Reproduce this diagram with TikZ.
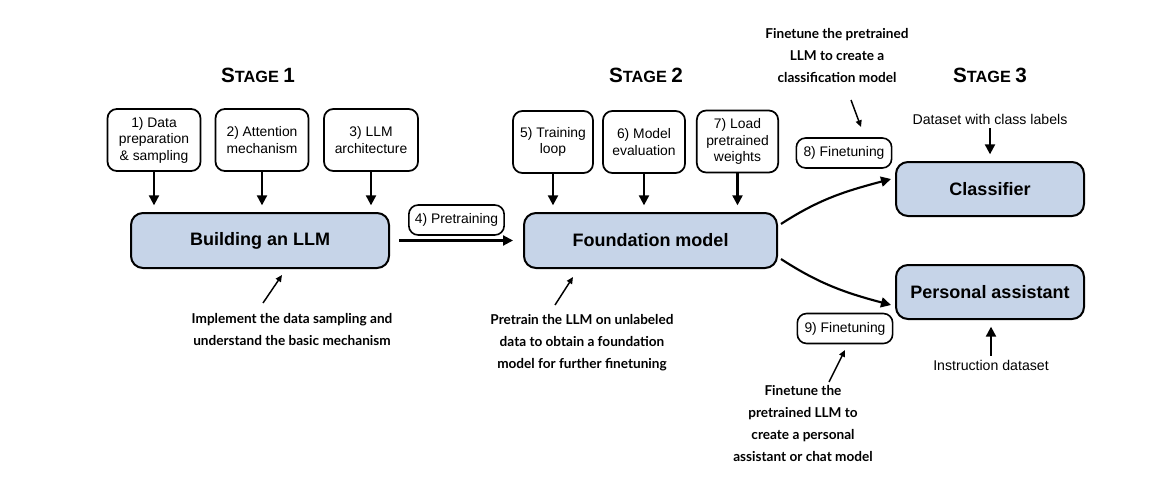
\documentclass[tikz,border=0pt]{standalone}
\usepackage{fontspec}
\setmainfont{Liberation Sans}
\newfontfamily\annfont{Lato}
\usetikzlibrary{arrows.meta}
\definecolor{boxblue}{RGB}{198,212,232}
\tikzset{
  smallbox/.style={draw, line width=1.3pt, rounded corners=7pt, align=center,
    font=\fontsize{10.4}{12.4}\selectfont, inner sep=0pt, minimum height=46.5pt},
  pillbox/.style={draw, line width=1.2pt, rounded corners=7pt, align=center,
    font=\fontsize{10.4}{12.4}\selectfont, inner sep=0pt, minimum height=22.5pt, minimum width=71.5pt},
  bigbox/.style={draw, line width=1.5pt, rounded corners=9pt, fill=boxblue,
    font=\bfseries\fontsize{13.5}{16}\selectfont, inner sep=0pt, minimum height=41.25pt},
  arr/.style={line width=1.6pt, -{Triangle[length=7.5pt,width=7.5pt]}, shorten >=5pt},
  ann/.style={font=\annfont\bfseries\fontsize{10.2}{16.3}\selectfont, align=center, inner sep=0pt},
  annarr/.style={line width=1.1pt, -{Triangle[length=5pt,width=4.5pt]}},
  lbl/.style={font=\fontsize{10.6}{12}\selectfont, inner sep=0pt},
  stage/.style={font=\bfseries, inner sep=0pt}
}
\newcommand{\stagetitle}[1]{{\fontsize{15.5}{16}\selectfont S}{\fontsize{12.2}{16}\selectfont TAGE }{\fontsize{15.5}{16}\selectfont #1}}
\begin{document}
\begin{tikzpicture}[x=0.75pt,y=-0.75pt]
\useasboundingbox (0,0) rectangle (1150,492);
\fill[white] (0,0) rectangle (1150,492);

% stage titles
\node[stage] (s1) at (258,75) {\stagetitle{1}};
\node[stage] (s2) at (646,75) {\stagetitle{2}};
\node[stage] (s3) at (990,75) {\stagetitle{3}};

% stage 1
\node[smallbox, minimum width=69.75pt] (b1) at (154,140) {1) Data\\preparation\\\& sampling};
\node[smallbox, minimum width=69.75pt] (b2) at (262,140) {2) Attention\\mechanism};
\node[smallbox, minimum width=70.5pt] (b3) at (371,140) {3) LLM\\architecture};
\node[bigbox, minimum width=193.5pt] (build) at (260,240.5) {Building an LLM};
\foreach \b in {b1,b2,b3} \draw[arr] (\b.south) -- (\b.south |- build.north);

% pretraining
\node[pillbox] (pre) at (456.5,220) {4) Pretraining};

% stage 2
\node[smallbox, minimum width=60pt] (b5) at (553,142) {5) Training\\loop};
\node[smallbox, minimum width=61.5pt] (b6) at (644,142) {6) Model\\evaluation};
\node[smallbox, minimum width=61pt] (b7) at (737.5,141.5) {7) Load\\pretrained\\weights};
\node[bigbox, minimum width=189.75pt] (found) at (650.5,240.5) {Foundation model};
\foreach \b in {b5,b6,b7} \draw[arr] (\b.south) -- (\b.south |- found.north);
\draw[arr, shorten <=6.75pt, shorten >=7.5pt] (build.east) -- (found.west);

% stage 3
\node[bigbox, minimum width=141pt, minimum height=40.5pt] (cls) at (990,189) {Classifier};
\node[bigbox, minimum width=141pt, minimum height=40.5pt] (pa) at (990,292) {Personal assistant};
\node[lbl] (dsl) at (990,119) {Dataset with class labels};
\node[lbl] (ids) at (991,365) {Instruction dataset};
\draw[arr, shorten <=3pt] (dsl.south) -- (dsl.south |- cls.north);
\draw[arr, shorten <=3pt] (ids.north) -- (ids.north |- pa.south);

\node[pillbox] (ft8) at (844,153) {8) Finetuning};
\node[pillbox] (ft9) at (845,328.5) {9) Finetuning};

\coordinate (c1s) at ([xshift=2.25pt,yshift=12.4pt]found.east);
\coordinate (c1e) at ([xshift=-3pt,yshift=7.5pt]cls.west);
\coordinate (c2s) at ([xshift=2.25pt,yshift=-13.9pt]found.east);
\coordinate (c2e) at ([xshift=-3pt,yshift=-9.75pt]pa.west);
\draw[arr, shorten >=0pt] (c1s) to[out=33,in=195] (c1e);
\draw[arr, shorten >=0pt] (c2s) to[out=-33,in=165] (c2e);

% annotations
\node[ann] (a1) at (292,329.5) {Implement the data sampling and\\understand the basic mechanism};
\coordinate (a1t) at (282,275);
\draw[annarr] (263,303) coordinate (a1f) -- (a1t);

\node[ann] (a2) at (582,342.5) {Pretrain the LLM on unlabeled\\data to obtain a foundation\\model for further finetuning};
\coordinate (a2t) at (573,277);
\draw[annarr] (555,305) coordinate (a2f) -- (a2t);

\node[ann] (a8) at (837,55.5) {Finetune the pretrained\\LLM to create a\\classification model};
\coordinate (a8t) at (861,127);
\draw[annarr] (851,100) coordinate (a8f) -- (a8t);

\node[ann] (a9) at (803,423.5) {Finetune the\\pretrained LLM to\\create a personal\\assistant or chat model};
\coordinate (a9t) at (845,350);
\draw[annarr] (829,382) coordinate (a9f) -- (a9t);
\end{tikzpicture}
\end{document}
